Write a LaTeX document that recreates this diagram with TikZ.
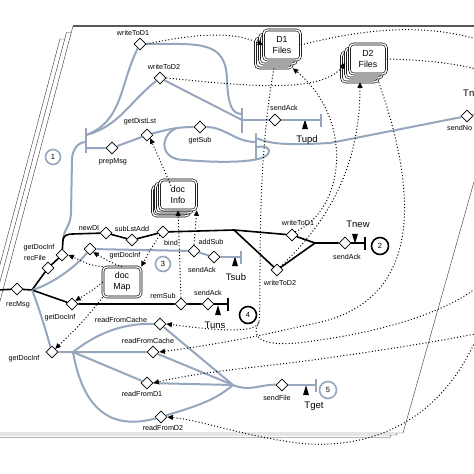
\documentclass[tikz,border=0pt]{standalone}
\usepackage{fontspec}
\setmainfont{Liberation Sans}
\usetikzlibrary{shapes.geometric,arrows.meta,positioning}
\definecolor{flowgray}{RGB}{150,166,188}
\tikzset{
  act/.style={diamond, draw, fill=white, line width=0.8pt, inner sep=0pt, minimum size=12pt},
  lbl/.style={font=\fontsize{7.2}{8}\selectfont, inner sep=0pt},
  tlbl/.style={font=\fontsize{9.5}{10}\selectfont, inner sep=0pt},
  gline/.style={draw=flowgray, line width=2pt},
  bline/.style={draw=black, line width=1.6pt},
  tbar/.style={-{Bar[width=13pt]}},
  dep/.style={line width=1pt, dash pattern=on 1pt off 2.2pt},
  deparr/.style={dep, -{Triangle[length=5.5pt,width=5pt]}},
  store/.style={draw, double, double distance=1.4pt, line width=0.6pt, rounded corners=4pt, fill=white,
    minimum width=37pt, minimum height=30pt, align=center, font=\fontsize{8.8}{11}\selectfont},
  endpt/.style={circle, draw, line width=1.6pt, minimum size=17pt, inner sep=0pt, font=\fontsize{7.5}{8}\selectfont},
  timer/.style={isosceles triangle, isosceles triangle apex angle=30, isosceles triangle stretches,
    fill=black, inner sep=0pt, minimum height=10pt, minimum width=6pt, shape border rotate=90},
}
\begin{document}
\begin{tikzpicture}[x=1pt,y=-1pt]
\useasboundingbox (0,0) rectangle (474,474);
\draw[black!80, fill=white] (60,39) -- (503,39) -- (390,437.5) -- (-46,437.5) -- cycle;
\draw[black!80, fill=white] (66.5,32.5) -- (510,32.5) -- (396.5,435) -- (-41,435) -- cycle;
\draw[black!80, fill=white] (73,26) -- (518,26) -- (403,433) -- (-35,433) -- cycle;
\draw[black!65, line width=1.6pt] (73,26) -- (518,26);

% data stores
\node[store] (D1c) at (274,53) {};
\node[store] (D1b) at (278,49) {};
\node[store] (D1) at (282,45) {D1\\Files};
\node[store] (D2c) at (360,67) {};
\node[store] (D2b) at (364,63) {};
\node[store] (D2) at (368,59) {D2\\Files};
\node[store] (docInfoc) at (171,201) {};
\node[store] (docInfob) at (174,198) {};
\node[store] (docInfo) at (178,195) {doc\\Info};
\node[store, minimum width=38pt] (docMap) at (122,282) {doc\\Map};

% process 1
\node[endpt, draw=flowgray, minimum size=15pt] (c1) at (53,157) {1};
\coordinate (f1a) at (86,128); \coordinate (f1b) at (86,153);
\coordinate (f1u) at (86,135); \coordinate (f1m) at (86,142); \coordinate (f1d) at (86,148);
\coordinate (g1in) at (63,240);
\node[act] (wD1a) at (140,44) {};
\node[act] (wD2a) at (160,78) {};
\node[act] (prepMsg) at (112,148) {};
\node[act] (getDistLst) at (147,135) {};
\node[act] (getSub) at (200,127) {};
\coordinate (j1a) at (242,108); \coordinate (j1b) at (242,133);
\coordinate (j1u) at (242,114); \coordinate (j1m) at (242,120);
\coordinate (j2a) at (256,133); \coordinate (j2b) at (256,160);
\coordinate (j2u) at (256,138); \coordinate (j2m) at (256,142); \coordinate (j2d) at (256,147);
\coordinate (lp) at (177,128);
\node[act] (sendAckU) at (275,120) {};
\coordinate (tupd) at (322,120);
\node[act] (sendNo) at (467,116) {};
\coordinate (offR) at (490,111);
\node[timer] (Tupd) at (305,127) {};

\draw[gline] (f1a) -- (f1b) (j1a) -- (j1b) (j2a) -- (j2b);
\draw[gline] (g1in) .. controls (64,228) and (71,226) .. (71,212) -- (72,160) to[out=90,in=180] (f1m);
\draw[gline] (f1u) to[out=20,in=243] (wD1a);
\draw[gline] (f1u) to[out=15,in=218] (wD2a);
\draw[gline] (f1d) -- (prepMsg) -- (getDistLst) to[out=15,in=180] (getSub);
\draw[gline] (wD1a) .. controls (200,44) and (226,40) .. (227,80) .. controls (228,105) and (232,114) .. (j1u);
\draw[gline] (wD2a) -- (j1m);
\draw[gline] (getSub) .. controls (225,127) and (235,142) .. (j2m);
\draw[gline] (lp) .. controls (160,134) and (158,160) .. (185,160) .. controls (220,163) and (262,163) .. (268,154) .. controls (272,146) and (262,146) .. (j2d);
\draw[gline, tbar] (j1m) -- (sendAckU) -- (tupd);
\draw[gline] (j2u) .. controls (272,145) and (292,145) .. (330,143) -- (sendNo) -- (offR);

% process 2
\coordinate (inL) at (-2,290);
\node[act] (recMsg) at (17,289) {};
\coordinate (j0) at (32,290);
\node[act] (recFile) at (48,268) {};
\node[act] (getDocInfA) at (62,255) {};
\node[act] (newDI) at (106,233) {};
\node[act] (subLstAdd) at (132,240) {};
\node[act] (bind) at (163,232) {};
\coordinate (sp) at (234,230);
\node[act] (wD1b) at (292,235) {};
\node[act] (wD2b) at (277,270) {};
\coordinate (mg) at (315,243);
\node[act] (sendAckN) at (345,243) {};
\coordinate (tnew) at (366,243);
\node[timer, shape border rotate=-90] (Tnew) at (355,236) {};
\node[endpt] (c2) at (380,246) {2};

\draw[bline] (inL) -- (recMsg) -- (j0) -- (recFile) -- (getDocInfA) -- (g1in) to[out=90,in=180] (72,234) -- (newDI) -- (subLstAdd) -- (bind) -- (sp) -- (wD1b) -- (mg);
\draw[bline] (sp) -- (wD2b) -- (mg) -- (sendAckN);
\draw[bline, tbar] (sendAckN) -- (tnew);

% process 3
\node[act] (getDocInfB) at (90,249) {};
\node[act] (addSub) at (194,251) {};
\node[act] (sendAckS) at (214,257) {};
\coordinate (tsub) at (242,257);
\node[timer] (Tsub) at (235,264) {};
\node[endpt, draw=flowgray, minimum size=15pt] (c3) at (163,264) {3};
\draw[gline] (j0) .. controls (50,285) and (75,268) .. (getDocInfB) -- (addSub) -- (sendAckS);
\draw[gline, tbar] (sendAckS) -- (tsub);

% process 4
\node[act] (getDocInfC) at (72,304) {};
\node[act] (remSub) at (181,304) {};
\node[act] (sendAckR) at (208,304) {};
\coordinate (tuns) at (229,304);
\node[timer] (Tuns) at (218,313) {};
\node[endpt] (c4) at (248,315) {4};
\draw[bline] (j0) -- (getDocInfC) -- (remSub) -- (sendAckR);
\draw[bline, tbar] (sendAckR) -- (tuns);

% process 5
\node[act] (getDocInfD) at (52,352) {};
\coordinate (j5) at (73,352);
\node[act] (rFC1) at (160,324) {};
\node[act] (rFC2) at (153,352) {};
\node[act] (rFD1) at (147,383) {};
\node[act] (rFD2) at (161,417) {};
\coordinate (k5) at (233,385);
\node[act] (sendFile) at (282,385) {};
\coordinate (tget) at (317,385);
\node[timer] (Tget) at (306,393) {};
\node[endpt, draw=flowgray] (c5) at (328,390) {5};
\draw[gline] (j0) .. controls (40,310) and (47,335) .. (getDocInfD) -- (j5);
\draw[gline] (j5) .. controls (95,335) and (120,323) .. (rFC1) -- (k5);
\draw[gline] (j5) -- (rFC2) -- (k5);
\draw[gline] (j5) -- (rFD1) -- (k5);
\draw[gline] (j5) .. controls (85,420) and (120,428) .. (rFD2) .. controls (200,405) and (215,400) .. (k5);
\draw[gline] (k5) .. controls (250,392) and (262,384) .. (sendFile);
\draw[gline, tbar] (sendFile) -- (tget);

% data dependencies
\coordinate (offA) at (480,40); \coordinate (offB) at (480,70);
\coordinate (offC) at (480,285); \coordinate (offD) at (480,333); \coordinate (offE) at (480,330);
\draw[deparr] (wD1a.east) .. controls (190,35) and (230,30) .. (D1.west);
\draw[deparr] (wD2a.east) .. controls (240,85) and (320,95) .. (D2b.west);
\draw[dep] (D1.east) .. controls (360,30) and (420,22) .. (offA);
\draw[dep] (D2.east) .. controls (420,60) and (450,62) .. (offB);
\draw[deparr] (wD1b.north east) .. controls (345,210) and (355,120) .. (D1c.south east);
\draw[deparr] (wD2b.north east) .. controls (325,225) and (360,170) .. (D2c.south);
\draw[deparr] (D1c.south) .. controls (255,170) and (262,300) .. (259,322) .. controls (256,336) and (200,328) .. (rFC1.east);
\draw[deparr] (D2c.south east) .. controls (420,200) and (420,300) .. (317,323) .. controls (290,328) and (250,340) .. (rFC2.east);
\draw[dep] (offC) .. controls (440,318) and (360,336) .. (297,343) .. controls (262,346) and (250,338) .. (259,322);
\draw[deparr] (offD) .. controls (420,345) and (330,358) .. (297,362) .. controls (250,368) and (200,372) .. (rFD1.east);
\draw[deparr] (offE) .. controls (440,430) and (360,450) .. (297,443) .. controls (240,435) and (200,420) .. (rFD2.east);
\draw[deparr] (docInfoc.north) .. controls (162,165) .. (getDistLst.south east);
\draw[deparr] (remSub.north) -- (docInfo.south);
\draw[deparr] (addSub.north) -- (docInfo.south east);
\draw[deparr] (bind.south west) .. controls (150,250) .. (docMap.north east);
\draw[deparr] (docMap.north west) .. controls (90,265) .. (getDocInfA.east);
\draw[deparr] (docMap.north) .. controls (110,262) .. (getDocInfB.south east);
\draw[deparr] (docMap.west) .. controls (90,292) .. (getDocInfC.north east);
\draw[deparr] (docMap.south west) .. controls (80,325) .. (getDocInfD.north east);

% labels
\node[lbl] (l-wD1a) at (133,33) {writeToD1};
\node[lbl] (l-wD2a) at (164,67) {writeToD2};
\node[lbl] (l-getDistLst) at (140,122) {getDistLst};
\node[lbl] (l-prepMsg) at (113,162) {prepMsg};
\node[lbl] (l-getSub) at (200,141) {getSub};
\node[lbl] (l-sendAckU) at (284,108) {sendAck};
\node[tlbl] (l-Tupd) at (307,140) {Tupd};
\node[lbl, anchor=west] (l-sendNo) at (447,128) {sendNo};
\node[tlbl, anchor=west] (l-Tn) at (463,93) {Tn};
\node[lbl] (l-recMsg) at (18,305) {recMsg};
\node[lbl] (l-recFile) at (35,258) {recFile};
\node[lbl] (l-getDocInfA) at (39,248) {getDocInf};
\node[lbl] (l-newDI) at (89,228) {newDI};
\node[lbl] (l-subLstAdd) at (132,229) {subLstAdd};
\node[lbl] (l-bind) at (171,243) {bind};
\node[lbl] (l-wD1b) at (298,223) {writeToD1};
\node[lbl] (l-wD2b) at (280,283) {writeToD2};
\node[lbl] (l-sendAckN) at (347,257) {sendAck};
\node[tlbl] (l-Tnew) at (358,224) {Tnew};
\node[lbl] (l-getDocInfB) at (125,256) {getDocInf};
\node[lbl] (l-addSub) at (211,242) {addSub};
\node[lbl] (l-sendAckS) at (202,270) {sendAck};
\node[tlbl] (l-Tsub) at (236,277) {Tsub};
\node[lbl] (l-getDocInfC) at (60,318) {getDocInf};
\node[lbl] (l-remSub) at (163,296) {remSub};
\node[lbl] (l-sendAckR) at (208,293) {sendAck};
\node[tlbl] (l-Tuns) at (215,325) {Tuns};
\node[lbl] (l-getDocInfD) at (24,359) {getDocInf};
\node[lbl] (l-rFC1) at (121,320) {readFromCache};
\node[lbl] (l-rFC2) at (148,341) {readFromCache};
\node[lbl] (l-rFD1) at (142,394) {readFromD1};
\node[lbl] (l-rFD2) at (163,428) {readFromD2};
\node[lbl] (l-sendFile) at (277,398) {sendFile};
\node[tlbl] (l-Tget) at (314,406) {Tget};
\end{tikzpicture}
\end{document}
